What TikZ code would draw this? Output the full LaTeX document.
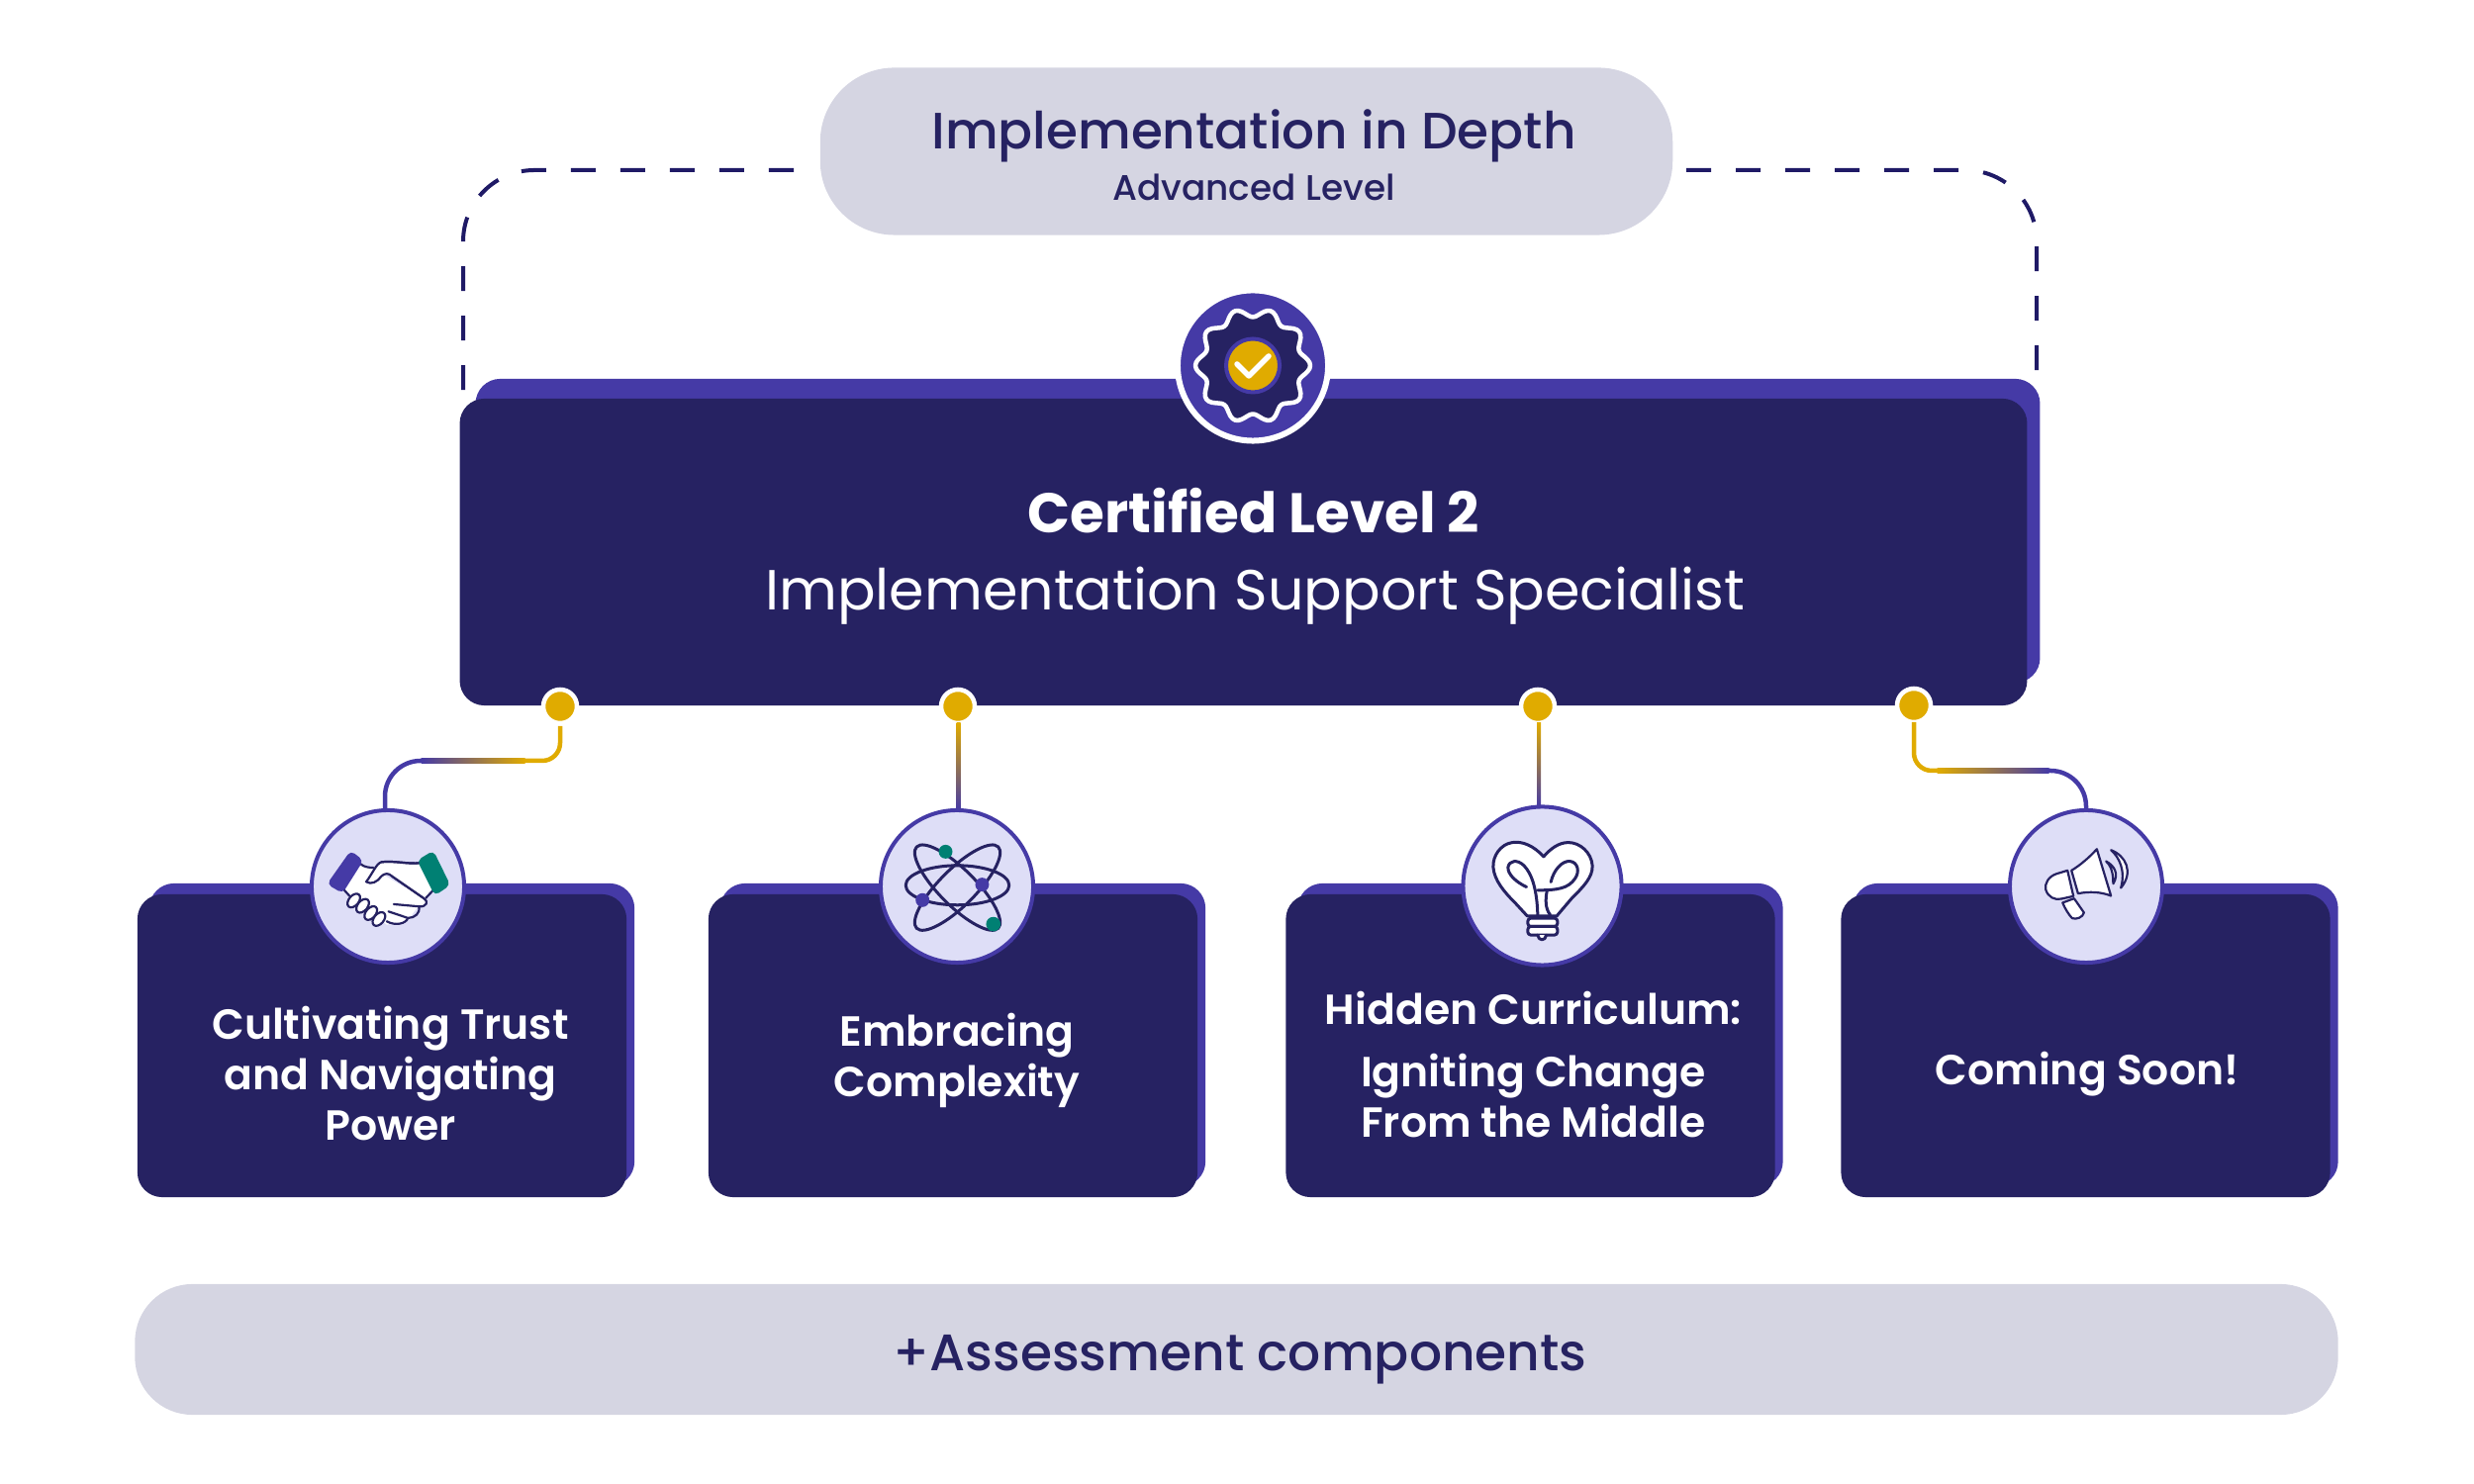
\documentclass[tikz,border=0pt]{standalone}
\usepackage{fontspec}
\setmainfont{Poppins}
\newfontfamily\popm{Poppins Medium}
\newfontfamily\pops{Poppins SemiBold}
\usetikzlibrary{calc}
\definecolor{navy}{HTML}{262262}
\definecolor{royal}{HTML}{453AA6}
\definecolor{gold}{HTML}{E0AB00}
\definecolor{teal2}{HTML}{008073}
\definecolor{lilac}{HTML}{DEDEF7}
\definecolor{pillgrey}{HTML}{D5D5E2}
\definecolor{dashnavy}{HTML}{1F1A66}
\tikzset{
  pill/.style={fill=pillgrey,rounded corners=#1,inner sep=0pt,outer sep=0pt},
  backbox/.style={fill=royal,rounded corners=0.25cm,inner sep=0pt,outer sep=0pt},
  frontbox/.style={fill=navy,rounded corners=0.25cm,inner sep=0pt,outer sep=0pt},
  icondisc/.style={circle,fill=lilac,draw=royal,line width=0.04cm,inner sep=0pt,outer sep=0pt},
  dotnode/.style={circle,fill=gold,draw=white,line width=0.045cm,minimum size=0.34cm,inner sep=0pt,outer sep=0pt},
  cardtext/.style={text=white,align=center,inner sep=0pt,font=\pops\fontsize{12.1}{14.5}\selectfont},
  dashline/.style={draw=dashnavy,line width=0.04cm,dash pattern=on 0.25cm off 0.25cm},
  goldline/.style={draw=gold,line width=0.045cm},
  royalline/.style={draw=royal,line width=0.045cm},
  iconline/.style={draw=navy,line width=0.022cm,line cap=round,line join=round},
}
\begin{document}
\begin{tikzpicture}[x=0.01cm,y=0.01cm]
\useasboundingbox (0,0) rectangle (2500,1500);

% top pill and dashed frame
\node[pill=0.75cm,minimum width=8.61cm,minimum height=1.69cm] (toppill) at (1259.5,1347) {};
\node[text=navy,inner sep=0pt,font=\popm\fontsize{14.7}{18}\selectfont] (toptitle) at (1267,1363) {Implementation in Depth};
\node[text=navy,inner sep=0pt,font=\popm\fontsize{10.2}{12}\selectfont] (topsub) at (1267,1311) {Advanced Level};
\coordinate (dl0) at (802,1328);
\coordinate (dr0) at (1704,1328);
\coordinate (dl1) at (468,1104);
\coordinate (dr1) at (2058,1110);

% main box
\node[backbox,minimum width=15.80cm,minimum height=3.07cm] (mainback) at (1271,963.5) {};
\draw[dashline,rounded corners=0.72cm] (dl0) -| (dl1);
\draw[dashline,rounded corners=0.72cm] (dr0) -| (dr1);
\node[frontbox,minimum width=15.83cm,minimum height=3.10cm] (mainfront) at (1256.5,942) {};
\node[text=white,inner sep=0pt,font=\bfseries\fontsize{16.05}{20}\selectfont] (maintitle) at (1267,984) {Certified Level 2};
\node[text=white,inner sep=0pt,font=\fontsize{16.25}{20}\selectfont] (mainsub) at (1268,898) {Implementation Support Specialist};

% badge
\node[circle,fill=royal,draw=white,line width=0.06cm,minimum size=1.52cm,inner sep=0pt,outer sep=0pt] (badge) at (1266,1130.5) {};
\draw[white,fill=navy,line width=0.045cm,line join=round]
  plot[domain=0:357,samples=120] ({1266+(53.5+4.5*cos(10*\x))*cos(\x)},{1130.5+(53.5+4.5*cos(10*\x))*sin(\x)}) -- cycle;
\fill[gold,draw=royal,line width=0.04cm] (badge.center) circle (27);
\draw[white,line width=0.055cm,line cap=round,line join=round] (1250,1132) -- (1262,1120) -- (1282,1140);

% cards
\node[backbox,minimum width=4.90cm,minimum height=3.06cm] (back1) at (396,454) {};
\node[frontbox,minimum width=4.94cm,minimum height=3.06cm] (card1) at (386,443) {};
\node[backbox,minimum width=4.90cm,minimum height=3.06cm] (back2) at (973,454) {};
\node[frontbox,minimum width=4.94cm,minimum height=3.06cm] (card2) at (963,443) {};
\node[backbox,minimum width=4.90cm,minimum height=3.06cm] (back3) at (1556.5,454) {};
\node[frontbox,minimum width=4.94cm,minimum height=3.06cm] (card3) at (1546.5,443) {};
\node[backbox,minimum width=4.90cm,minimum height=3.06cm] (back4) at (2117.5,454) {};
\node[frontbox,minimum width=4.94cm,minimum height=3.06cm] (card4) at (2107.5,443) {};

\node[cardtext] (text1) at (394.5,415) {Cultivating Trust\\and Navigating\\Power};
\node[cardtext] (text2) at (967,428.5) {Embracing\\Complexity};
\node[cardtext] (text3a) at (1549.5,481) {Hidden Curriculum:};
\node[cardtext] (text3b) at (1549.5,392.5) {Igniting Change\\From the Middle};
\node[cardtext] (text4) at (2109,414) {Coming Soon!};

% icon discs
\node[icondisc,minimum size=1.54cm] (icon1) at (392,604) {};
\node[icondisc,minimum size=1.54cm] (icon2) at (967,604) {};
\node[icondisc,minimum size=1.60cm] (icon3) at (1558.5,604.5) {};
\node[icondisc,minimum size=1.54cm] (icon4) at (2108,604) {};

% dots
\node[dotnode] (dot1) at (566,786) {};
\node[dotnode] (dot2) at (968,786) {};
\node[dotnode] (dot3) at (1554,786) {};
\node[dotnode] (dot4) at (1934,787) {};

% connectors
\coordinate (c1a) at (530,731);
\coordinate (c1b) at (426,731);
\coordinate (c1e) at ($(icon1.north)+(-3,2)$);
\draw[goldline,rounded corners=0.18cm] ($(dot1.south)+(0,-3)$) |- (c1a);
\draw[royalline,rounded corners=0.36cm] (c1b) -| (c1e);
\shade[left color=royal,right color=gold] ($(c1b)+(-0.5,-2.25)$) rectangle ($(c1a)+(0.5,2.25)$);

\coordinate (c4a) at (1958,721);
\coordinate (c4b) at (2070,721);
\draw[goldline,rounded corners=0.18cm] (dot4.south) |- (c4a);
\draw[royalline,rounded corners=0.36cm] (c4b) -| (icon4.north);
\shade[left color=gold,right color=royal] ($(c4a)+(-0.5,-2.25)$) rectangle ($(c4b)+(0.5,2.25)$);

\shade[top color=gold,bottom color=royal] ($(dot2.south)+(-1.5,0)$) rectangle ($(icon2.north)+(3.5,0)$);
\shade[top color=gold,bottom color=royal] ($(dot3.south)+(-1,0)$) rectangle ($(icon3.north)+(-1.5,0)$);

% handshake
\begin{scope}[shift={(130,820)},x=0.00357cm,y=-0.00333cm]
  \fill[white] (655,580) -- (695,597) -- (840,690) -- (838,708) -- (815,715) -- (795,745) -- (770,762) -- (730,765) -- (610,660) -- cycle;
  \draw[iconline] (655,580) .. controls (665,590) and (680,592) .. (692,592);
  \draw[iconline] (608,658) -- (625,678);
  \draw[iconline,fill=white] (825,578) .. controls (790,582) and (750,570) .. (715,575) .. controls (700,580) and (690,610) .. (672,635) .. controls (685,645) and (705,635) .. (715,618) .. controls (725,608) and (735,608) .. (745,618) -- (835,685) .. controls (850,695) and (842,712) .. (822,710) -- (750,703);
  \fill[white] (825,578) -- (862,660) -- (840,685) -- (745,618) -- cycle;
  \draw[iconline] (825,578) .. controls (790,582) and (750,570) .. (715,575);
  \draw[iconline] (745,618) -- (835,685);
  \draw[iconline] (862,660) -- (840,685);
  \draw[iconline] (822,710) .. controls (825,730) and (810,745) .. (790,745) -- (735,725);
  \draw[iconline] (790,745) .. controls (785,762) and (755,770) .. (730,755);
  \foreach \a/\b in {637/692,662/708,685/730,708/748}{
    \draw[iconline,fill=white,rotate around={-40:(\a,\b)}] (\a,\b) ellipse [x radius=14,y radius=24];
  }
  \fill[royal,rounded corners=0.05cm] (628,540) -- (664,570) -- (605,670) -- (561,642) -- cycle;
  \fill[teal2,rounded corners=0.05cm] (816,570) -- (862,540) -- (910,645) -- (866,677) -- cycle;
\end{scope}

% atom
\begin{scope}[shift={(860,720)},x=0.00333cm,y=-0.00333cm]
  \draw[iconline,line width=0.03cm] (323,345) ellipse [x radius=157,y radius=60];
  \draw[iconline,line width=0.03cm,rotate around={45:(323,352)}] (323,352) ellipse [x radius=175,y radius=55];
  \draw[iconline,line width=0.03cm,rotate around={-45:(323,352)}] (323,352) ellipse [x radius=175,y radius=55];
  \fill[teal2] (287,243) circle (21);
  \fill[teal2] (432,463) circle (22);
  \fill[royal] (398,343) circle (21);
  \fill[royal] (217,390) circle (21);
\end{scope}

% bulb
\begin{scope}[shift={(1460,700)},x=0.00333cm,y=-0.00333cm]
  \draw[iconline,line width=0.03cm,fill=white] (300,198) .. controls (270,165) and (235,150) .. (205,155) .. controls (170,160) and (145,195) .. (147,230) .. controls (150,270) and (180,305) .. (215,340) -- (250,378) -- (340,378) -- (385,325) .. controls (420,290) and (450,260) .. (448,225) .. controls (445,185) and (410,155) .. (375,155) .. controls (345,155) and (320,175) .. (300,198) -- cycle;
  \draw[iconline,line width=0.03cm] (248,290) .. controls (215,275) and (190,250) .. (192,230) .. controls (195,210) and (220,205) .. (240,225) .. controls (265,250) and (280,300) .. (282,375);
  \draw[iconline,line width=0.03cm] (322,275) .. controls (330,240) and (355,210) .. (380,212) .. controls (405,215) and (410,245) .. (395,265) .. controls (375,295) and (340,300) .. (282,300);
  \draw[iconline,line width=0.03cm] (310,303) .. controls (305,330) and (305,355) .. (320,375);
  \draw[iconline,line width=0.03cm,fill=white,rounded corners=0.03cm] (252,385) rectangle (342,410);
  \draw[iconline,line width=0.03cm,fill=white,rounded corners=0.03cm] (252,410) rectangle (342,436);
  \draw[iconline,line width=0.03cm,fill=white] (282,436) .. controls (284,455) and (306,455) .. (308,436);
\end{scope}

% megaphone
\begin{scope}[shift={(2020,700)},x=0.00333cm,y=-0.00333cm]
  \draw[iconline,fill=white] (297,175) .. controls (275,200) and (245,225) .. (220,240) -- (240,310) .. controls (275,303) and (310,305) .. (340,317) -- cycle;
  \draw[iconline,fill=white] (208,240) -- (175,250) .. controls (150,258) and (138,280) .. (142,298) .. controls (148,320) and (170,332) .. (190,326) -- (226,318) -- cycle;
  \draw[iconline,fill=white] (193,338) -- (228,325) -- (258,368) .. controls (255,382) and (235,390) .. (222,385) .. controls (212,375) and (200,355) .. (193,338) -- cycle;
  \draw[iconline,fill=white] (325,212) .. controls (350,225) and (365,250) .. (347,280) .. controls (345,270) and (350,235) .. (325,212) -- cycle;
  \draw[iconline,fill=white] (340,178) .. controls (385,195) and (410,245) .. (370,293) .. controls (385,240) and (365,200) .. (340,178) -- cycle;
\end{scope}

% bottom pill
\node[pill=0.58cm,minimum width=22.25cm,minimum height=1.32cm] (botpill) at (1249.5,136) {};
\node[text=navy,inner sep=0pt,font=\popm\fontsize{14.75}{18}\selectfont] (bottext) at (1253,125.5) {+Assessment components};
\end{tikzpicture}
\end{document}
